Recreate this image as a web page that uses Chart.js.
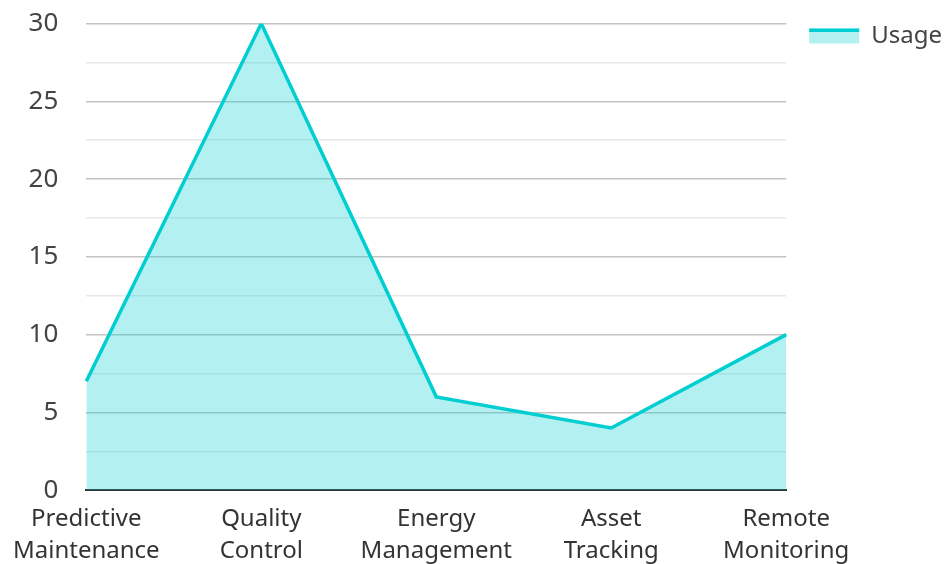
<!DOCTYPE html>
<html><head><meta charset="utf-8">
<script src="https://cdn.jsdelivr.net/npm/chart.js@4/dist/chart.umd.min.js"></script>
<style>
html,body{margin:0;padding:0;background:#fff;overflow:hidden;width:947px;height:564px}
#wrap{position:absolute;left:0;top:-20px;width:947px;height:600px}
</style></head>
<body><div id="wrap"><canvas id="c"></canvas></div>
<script>
const categories = [["Predictive","Maintenance"],["Quality","Control"],["Energy","Management"],["Asset","Tracking"],["Remote","Monitoring"]];
const usageValues = [7, 30, 6, 4, 10];
const seriesName = "Usage";
const yTicks = [0, 5, 10, 15, 20, 25, 30];

const lineColor = "rgb(0,206,209)";
const fillColor = "rgba(0,206,209,0.3)";

const legendLinePlugin = {
  id: 'legendLine',
  beforeLayout(chart) {
    const lg = chart.legend;
    if (lg && !lg._patchedFit) {
      const orig = lg.fit;
      lg.fit = function () { orig.call(this); this.width -= 5; };
      lg._patchedFit = true;
    }
  },
  afterDraw(chart) {
    const lg = chart.legend;
    if (!lg || !lg.legendHitBoxes) return;
    const ctx = chart.ctx;
    lg.legendHitBoxes.forEach(b => {
      ctx.save();
      ctx.fillStyle = lineColor;
      ctx.fillRect(b.left, b.top + (b.height - 15) / 2, 50, 3.5);
      ctx.restore();
    });
  }
};

Chart.defaults.font.family = "'Noto Sans', 'Open Sans', sans-serif";
Chart.defaults.font.size = 24;
Chart.defaults.color = "#444";

new Chart(document.getElementById('c'), {
  type: 'line',
  data: {
    labels: categories,
    datasets: [{
      label: seriesName,
      data: usageValues,
      borderColor: lineColor,
      backgroundColor: fillColor,
      borderWidth: 3.5,
      fill: 'origin',
      tension: 0,
      pointRadius: 0,
      pointHoverRadius: 0
    }]
  },
  options: {
    responsive: true,
    maintainAspectRatio: false,
    animation: false,
    layout: { padding: 0 },
    plugins: {
      legend: {
        position: 'right',
        align: 'start',
        title: { display: true, text: ' ', padding: 14.5, font: { size: 10, lineHeight: 1 } },
        labels: {
          boxWidth: 50,
          boxHeight: 15,
          padding: 5,
          color: '#333',
          font: { size: 24 },
          generateLabels(chart) {
            return chart.data.datasets.map((d, i) => ({
              text: d.label,
              fillStyle: fillColor,
              strokeStyle: 'rgba(0,0,0,0)',
              lineWidth: 0,
              datasetIndex: i,
              hidden: false
            }));
          }
        }
      },
      tooltip: { enabled: false }
    },
    scales: {
      x: {
        offset: false,
        grid: { display: false, drawTicks: false },
        border: { display: true, color: '#333', width: 2 },
        ticks: { color: '#333', padding: 13, maxRotation: 0, autoSkip: false, font: { size: 24, lineHeight: 1.33 } }
      },
      y: {
        min: 0,
        max: 30,
        afterBuildTicks(axis) {
          const t = [];
          for (let i = 0; i < yTicks.length; i++) {
            t.push({ value: yTicks[i] });
            if (i < yTicks.length - 1) t.push({ value: (yTicks[i] + yTicks[i + 1]) / 2 });
          }
          axis.ticks = t;
        },
        grid: {
          drawTicks: false,
          lineWidth: 1.5,
          color(ctx) {
            const v = ctx.tick ? ctx.tick.value : 0;
            if (v === 0) return 'rgba(0,0,0,0)';
            return yTicks.includes(v) ? '#c4c4c4' : '#e8e8e8';
          }
        },
        border: { display: false },
        ticks: {
          color: '#444',
          padding: 28,
          font: { size: 26 },
          callback(v) { return yTicks.includes(v) ? String(v) : ''; }
        }
      },
      ySpacer: {
        position: 'right',
        min: 0,
        max: 30,
        grid: { display: false, drawTicks: false },
        border: { display: false },
        ticks: { display: false },
        afterFit(axis) { axis.width = 18; }
      }
    }
  },
  plugins: [legendLinePlugin]
});
</script></body></html>
